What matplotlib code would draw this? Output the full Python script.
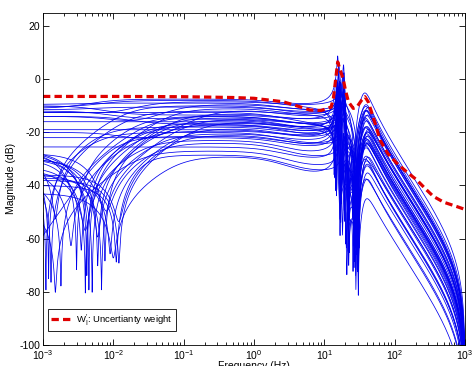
import numpy as np
import matplotlib
matplotlib.use("Agg")
import matplotlib.pyplot as plt

plt.rcParams['font.family'] = ['Liberation Sans', 'DejaVu Sans']
plt.rcParams['mathtext.fontset'] = 'custom'
plt.rcParams['mathtext.rm'] = 'Liberation Sans'
plt.rcParams['mathtext.it'] = 'Liberation Sans:italic'
plt.rcParams['axes.unicode_minus'] = False

# uncertainty weight W_I' (Hz, dB)
w_freq = [1e-3, 1e-2, 0.1, 0.5, 1.0, 2.6, 4.5, 6.2, 9.0, 12.5, 13.5, 14.5, 15.5, 16.5,
          18.6, 19.9, 22.0, 25.8, 29.0, 33.9, 37.8, 42.0, 46.8, 54.0, 62.0, 80.0, 107.0,
          150.0, 206.0, 280.0, 355.0, 500.0, 760.0, 1000.0]
w_db = [-6.5, -6.5, -6.6, -6.9, -7.2, -8.5, -10.4, -11.6, -11.8, -10.5, -7.0, 0.0, 6.5, 4.0,
        0.0, -4.0, -8.5, -11.0, -10.5, -7.9, -6.6, -8.5, -12.3, -17.5, -22.9, -28.0, -31.6,
        -35.0, -37.9, -41.5, -44.1, -46.3, -47.9, -49.0]

# plant set: mid-band level, low-frequency level, low notch (Hz) and dampings
plateau_db = [-7.5, -8, -8.5, -9, -9.5, -10, -10.5, -11, -11.5, -12, -12.5, -13, -13.5, -14,
              -14, -14.5, -15, -15, -15.5, -16, -16, -16.5, -17, -17, -17.5, -18, -18.5, -19,
              -19.5, -20, -20.5, -21, -21.5, -22, -23, -24, -25.5, -27, -28.5, -29]
dc_db = [-11, -10.5, -12.5, -9.5, -14, -27, -11.5, -30, -20, -35, -12.5, -30, -10, -38,
         -27, -33, -12, -36, -28, -38, -16, -27, -28, -14, -30, -27, -37, -19,
         -33, -27, -27, -36, -87, -22, -34, -30, -25.5, -45, -40, -43]
notch_hz = [0.004, 0.006, 0.01, 0.003, 0.02, 0.0012, 0.005, 0.0045, 0.03, 0.0013, 0.005, 0.006,
            0.008, 0.0018, 0.003, 0.004, 0.01, 0.0068, 0.0076, 0.012, 0.005, 0.0042, 0.005, 0.02,
            0.0035, 0.0015, 0.009, 0.005, 0.0025, 0.0011, 0.006, 0.012, 0.0002, 0.005, 0.004,
            0.008, 0.005, 0.0015, 0.011, 0.01]
notch_zeta = [1.0, 1.0, 1.0, 1.0, 1.0, 0.004, 1.0, 0.003, 1.0, 0.006, 1.0, 0.01, 1.0, 0.008,
              0.006, 0.004, 1.0, 0.006, 0.01, 0.02, 1.0, 0.005, 0.004, 1.0, 0.02, 0.05, 0.03,
              1.0, 0.04, 0.003, 0.05, 0.1, 1.0, 1.0, 0.08, 0.15, 1.0, 0.02, 0.02, 0.06]
pole_zeta = [1.0, 1.0, 1.2, 1.0, 1.5, 2.5, 1.0, 2.5, 2.0, 2.0, 1.0, 2.5, 1.0, 2.5,
             2.0, 2.5, 1.0, 2.5, 2.0, 2.0, 1.0, 2.0, 3.0, 1.0, 2.0, 1.5, 2.0, 1.0,
             2.5, 2.0, 3.0, 1.5, 1.0, 1.0, 2.0, 2.0, 1.0, 3.0, 0.8, 2.0]
droop_db = [2.5, 2.5, 1.5, 3.0, 2.0, 3.5, 2.0, 2.5, 3.0, 1.5, 4.0, 2.5, 2.0, 3.0, 3.5, 2.5,
            2.0, 4.0, 3.0, 2.5, 3.5, 2.0, 4.5, 3.0, 2.5, 3.0, 4.0, 3.5, 2.0, 5.0, 3.0, 4.5,
            3.5, 4.0, 5.5, 6.0, 5.0, 6.5, 7.0, 8.0]
# structural modes (Hz)
fr1 = [15.5, 16.0, 18.8, 16.5, 15.8, 19.0, 16.2, 15.0, 18.5, 15.6, 16.4, 19.2, 14.6, 16.8,
       18.7, 15.1, 16.1, 18.9, 16.6, 14.9, 18.6, 16.3, 15.0, 19.1, 15.5, 14.7, 18.4, 15.2,
       16.7, 18.8, 14.5, 16.2, 19.0, 15.1, 16.4, 18.5, 14.8, 16.5, 18.9, 16.0]
fa1 = [19.5, 14.0, 22.0, 18.0, 14.5, 22.5, 17.5, 13.8, 21.5, 17.2, 14.6, 22.2, 16.8, 15.0,
       21.8, 14.2, 17.4, 22.4, 14.9, 16.9, 21.6, 19.2, 17.0, 22.3, 17.3, 16.9, 21.7, 20.2,
       19.6, 22.1, 16.6, 21.8, 22.6, 17.1, 20.6, 21.9, 16.7, 18.1, 22.2, 20.9]
fa2 = [28, 26.5, 29.5, 27, 30.5, 28.5, 25.5, 29, 31, 27.5, 26, 30, 28.2, 29.8, 26.8, 27.8,
       31.5, 28.8, 25.8, 29.2, 27.2, 30.8, 26.2, 28.6, 29.6, 27.6, 31.2, 26.6, 28.4, 30.2,
       27.4, 29.4, 25.6, 28.9, 30.6, 27.9, 26.4, 29.7, 28.1, 30.4]
fr2 = [38, 36.5, 39.5, 37, 40, 35.5, 38.5, 37.5, 39, 36, 38.2, 40.5, 36.8, 37.8, 39.2, 35.8,
       38.8, 37.2, 39.8, 36.2, 38.4, 37.4, 40.2, 36.6, 38.6, 39.4, 35.6, 37.6, 38.1, 39.6,
       36.4, 37.9, 40.8, 36.9, 38.3, 39.1, 37.1, 35.9, 38.9, 37.3]

freq = np.logspace(-3, 3, 4000)
s = 2j * np.pi * freq


def quad(f0, zeta):
    w = 2 * np.pi * f0
    return (s**2 + 2 * zeta * w * s + w**2) / w**2


def response_db(i):
    wz = 2 * np.pi * notch_hz[i]
    wp = wz * 10 ** ((plateau_db[i] - dc_db[i]) / 40)
    low = (s**2 + 2 * notch_zeta[i] * wz * s + wz**2) / (s**2 + 2 * pole_zeta[i] * wp * s + wp**2)
    lag = (1 + s / (2 * np.pi * 2.0 * 10 ** (droop_db[i] / 20))) / (1 + s / (2 * np.pi * 2.0))
    modes = quad(fa1[i], 0.006) * quad(fa2[i], 0.004) / (quad(fr1[i], 0.02) * quad(fr2[i], 0.2))
    roll = 1 / quad(26.0, 0.5)
    nyq = np.abs(np.cos(np.pi * freq / 2000.0))
    m = 10 ** (plateau_db[i] / 20) * np.abs(low * lag * modes * roll) * nyq
    return 20 * np.log10(np.maximum(m, 1e-12))


fig = plt.figure(figsize=(4.74, 3.66), dpi=100)
ax = fig.add_axes([0.0907, 0.0574, 0.8903, 0.9079])

for i in range(len(plateau_db)):
    ax.semilogx(freq, response_db(i), color='#0000ee', lw=0.55)

ax.semilogx(w_freq, w_db, color='#e00000', lw=2.3, linestyle=(0, (2.3, 1.3)),
            label=r"$\mathregular{W_I'}$: Uncertianty weight")

ax.set_xlim(1e-3, 1e3)
ax.set_ylim(-100, 25)
ax.set_yticks([-100, -80, -60, -40, -20, 0, 20])
ax.tick_params(which='both', direction='in', top=True, right=True, labelsize=7.5, width=0.6)
ax.tick_params(which='major', length=4, pad=2)
ax.tick_params(which='minor', length=2)
for sp in ax.spines.values():
    sp.set_linewidth(0.6)

ax.set_ylabel('Magnitude (dB)', fontsize=7.5)
ax.yaxis.set_label_coords(-0.064, 0.5)
fig.text(0.536, 0.0125, 'Frequency (Hz)', fontsize=7.5, ha='center', va='top')

leg = ax.legend(loc='lower left', bbox_to_anchor=(0.012, 0.042), fontsize=6.8, fancybox=False,
                framealpha=1, edgecolor='black', handlelength=2.0, handletextpad=0.6,
                borderpad=0.35, borderaxespad=0.0)
leg.get_frame().set_linewidth(0.6)

fig.savefig('out.png', dpi=100)
